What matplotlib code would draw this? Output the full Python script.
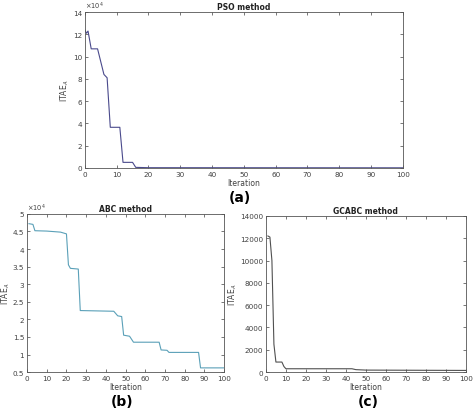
import matplotlib
matplotlib.use("Agg")
import matplotlib.pyplot as plt

# PSO breakpoints (values x1e4)
pso_x = [0, 0.5, 1, 2, 4, 6, 7, 8, 11, 12, 15, 16, 20, 100]
pso_y = [12.4, 12.1, 12.3, 10.7, 10.7, 8.4, 8.1, 3.65, 3.65, 0.5, 0.5, 0.05, 0.02, 0.01]

# ABC breakpoints (values x1e4)
abc_x = [1, 3, 4, 10, 17, 20, 21, 22, 26, 27, 44, 46, 48, 49, 52, 54, 67, 68, 71, 72, 87, 88, 100]
abc_y = [4.72, 4.70, 4.52, 4.51, 4.48, 4.43, 3.55, 3.45, 3.43, 2.25, 2.23, 2.10, 2.08, 1.55, 1.52,
         1.35, 1.35, 1.13, 1.12, 1.06, 1.06, 0.62, 0.62]

# GCABC breakpoints
gc_x = [1, 2, 3, 4, 5, 8, 9, 10, 43, 45, 50, 100]
gc_y = [12200, 12100, 10000, 2500, 900, 900, 500, 300, 300, 220, 180, 150]

xticks = list(range(0, 101, 10))
col_txt = "#404040"

fig = plt.figure(figsize=(4.74, 4.10), dpi=100)
fig.patch.set_facecolor("white")

def style(ax, title, ylpad=1):
    ax.tick_params(direction="in", labelsize=5.2, colors=col_txt, length=2.5, width=0.5,
                   top=True, right=True, pad=2)
    for s in ax.spines.values():
        s.set_color("#555555")
        s.set_linewidth(0.6)
    ax.set_title(title, fontsize=5.5, fontweight="bold", pad=2, color="#222222")
    ax.set_xlabel("Iteration", fontsize=5.5, color=col_txt, labelpad=1)
    ax.set_ylabel(r"ITAE$_A$", fontsize=5.5, color=col_txt, labelpad=ylpad)
    ax.set_xticks(xticks)
    ax.set_xlim(0, 100)

ax1 = fig.add_axes([0.179, 0.588, 0.671, 0.380])
ax1.plot(pso_x, pso_y, color="#4a4a8c", lw=0.8)
ax1.set_ylim(0, 14)
ax1.set_yticks(range(0, 15, 2))
style(ax1, "PSO method")
ax1.text(0, 1.005, r"$\times10^4$", transform=ax1.transAxes, fontsize=4.8, color=col_txt,
         va="bottom", ha="left")

ax2 = fig.add_axes([0.057, 0.090, 0.416, 0.386])
ax2.plot(abc_x, abc_y, color="#5aa0b8", lw=0.8)
ax2.set_ylim(0.5, 5)
ax2.set_yticks([0.5, 1, 1.5, 2, 2.5, 3, 3.5, 4, 4.5, 5])
ax2.set_yticklabels(["0.5", "1", "1.5", "2", "2.5", "3", "3.5", "4", "4.5", "5"])
style(ax2, "ABC method", ylpad=0.5)
ax2.text(0, 1.005, r"$\times10^4$", transform=ax2.transAxes, fontsize=4.8, color=col_txt,
         va="bottom", ha="left")

ax3 = fig.add_axes([0.561, 0.090, 0.422, 0.381])
ax3.plot(gc_x, gc_y, color="#505050", lw=0.8)
ax3.set_ylim(0, 14000)
ax3.set_yticks(range(0, 14001, 2000))
style(ax3, "GCABC method")

fig.text(0.506, 1 - 198 / 410, "(a)", fontsize=10, fontweight="bold", ha="center", va="center")
fig.text(0.257, 1 - 402 / 410, "(b)", fontsize=10, fontweight="bold", ha="center", va="center")
fig.text(0.776, 1 - 402 / 410, "(c)", fontsize=10, fontweight="bold", ha="center", va="center")

fig.savefig("out.png", dpi=100, facecolor="white")
